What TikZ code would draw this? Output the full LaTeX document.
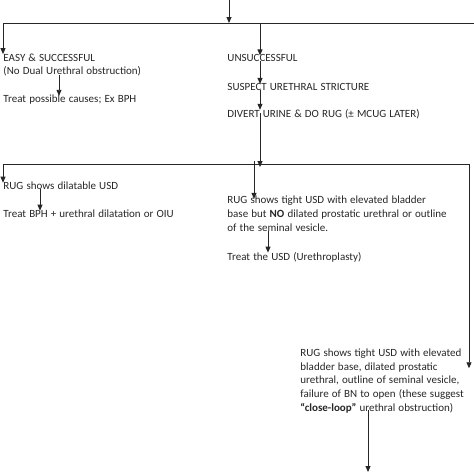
\documentclass[tikz,border=0pt]{standalone}
\usepackage{fontspec}
\setmainfont[WordSpace={1.25}]{Carlito}
\usepackage{tikz}
\usetikzlibrary{positioning,calc,arrows.meta}
\tikzstyle{txt} = [rectangle, anchor=west, align=left, inner sep=0pt, font=\fontsize{11}{13.8}\selectfont]
\tikzset{>={Triangle[length=6pt,width=5pt]}}

\begin{document}
\begin{tikzpicture}[x=1pt,y=-1pt,line width=0.9pt,color=black!85]
\useasboundingbox (0,0) rectangle (474,474);
% branch points
\coordinate (top) at (229,0);
\coordinate (barA) at (229,23);
\coordinate (barAl) at (3,23);
\coordinate (barAr) at (474,23);
\coordinate (barBl) at (3,164);
\coordinate (barBr) at (469,164);
% arrow columns
\coordinate (cA) at (59,0);
\coordinate (cB) at (260,0);
\coordinate (cC) at (40,0);
\coordinate (cD) at (254,0);
\coordinate (cE) at (268,0);
\coordinate (cF) at (368,0);
\coordinate (end) at (368,472);
% texts
\node[txt] (easy) at (3,65) {EASY \& SUCCESSFUL\\(No Dual Urethral obstruction)};
\node[txt] (bph) at (3,100) {Treat possible causes; Ex BPH};
\node[txt] (unsucc) at (227,58) {UNSUCCESSFUL};
\node[txt] (suspect) at (227,87) {SUSPECT URETHRAL STRICTURE};
\node[txt] (divert) at (227,114) {DIVERT URINE \& DO RUG (\textpm{} MCUG LATER)};
\node[txt] (dilat) at (3,186) {RUG shows dilatable USD};
\node[txt] (oiu) at (3,214) {Treat BPH + urethral dilatation or OIU};
\node[txt] (tight) at (227,214) {RUG shows tight USD with elevated bladder\\base but \textbf{NO} dilated prostatic urethral or outline\\of the seminal vesicle.};
\node[txt] (plasty) at (227,257) {Treat the USD (Urethroplasty)};
\node[txt] (loop) at (300,381) {RUG shows tight USD with elevated\\bladder base, dilated prostatic\\urethral, outline of seminal vesicle,\\failure of BN to open (these suggest\\\textbf{``close-loop''} urethral obstruction)};
% top bar
\draw[->] (top) -- (barA);
\draw (barAl) -- (barAr);
\draw[->] (barAl) -- ([yshift=-1pt]easy.north west);
\draw[->] (barA -| cB) -- ([yshift=-1.5pt]unsucc.north -| cB);
% left column
\draw[->] ([yshift=1.5pt]easy.south -| cA) -- ([yshift=-1pt]bph.north -| cA);
% middle column
\draw[->] ([yshift=1.5pt]unsucc.south -| cB) -- ([yshift=-1pt]suspect.north -| cB);
\draw[->] ([yshift=1.5pt]suspect.south -| cB) -- ([yshift=-1pt]divert.north -| cB);
\draw[->] ([yshift=6pt]divert.south -| cB) -- ([yshift=-3pt]barBl -| cB);
% second bar
\draw (barBl) -- (barBr);
\draw[->] (barBl) -- ([yshift=-1pt]dilat.north west);
\draw[->] ([yshift=1.5pt]dilat.south -| cC) -- ([yshift=-1pt]oiu.north -| cC);
\draw[->] ([yshift=3pt]barBl -| cD) -- ([yshift=-3pt]tight.north -| cD);
\draw[->] ([yshift=1.5pt]tight.south -| cE) -- ([yshift=-1pt]plasty.north -| cE);
\draw[->] (barBr) -- ([yshift=-20pt]loop.north -| barBr);
% closed loop
\draw[->] ([yshift=4pt]loop.south -| cF) -- (end);
\end{tikzpicture}
\end{document}
